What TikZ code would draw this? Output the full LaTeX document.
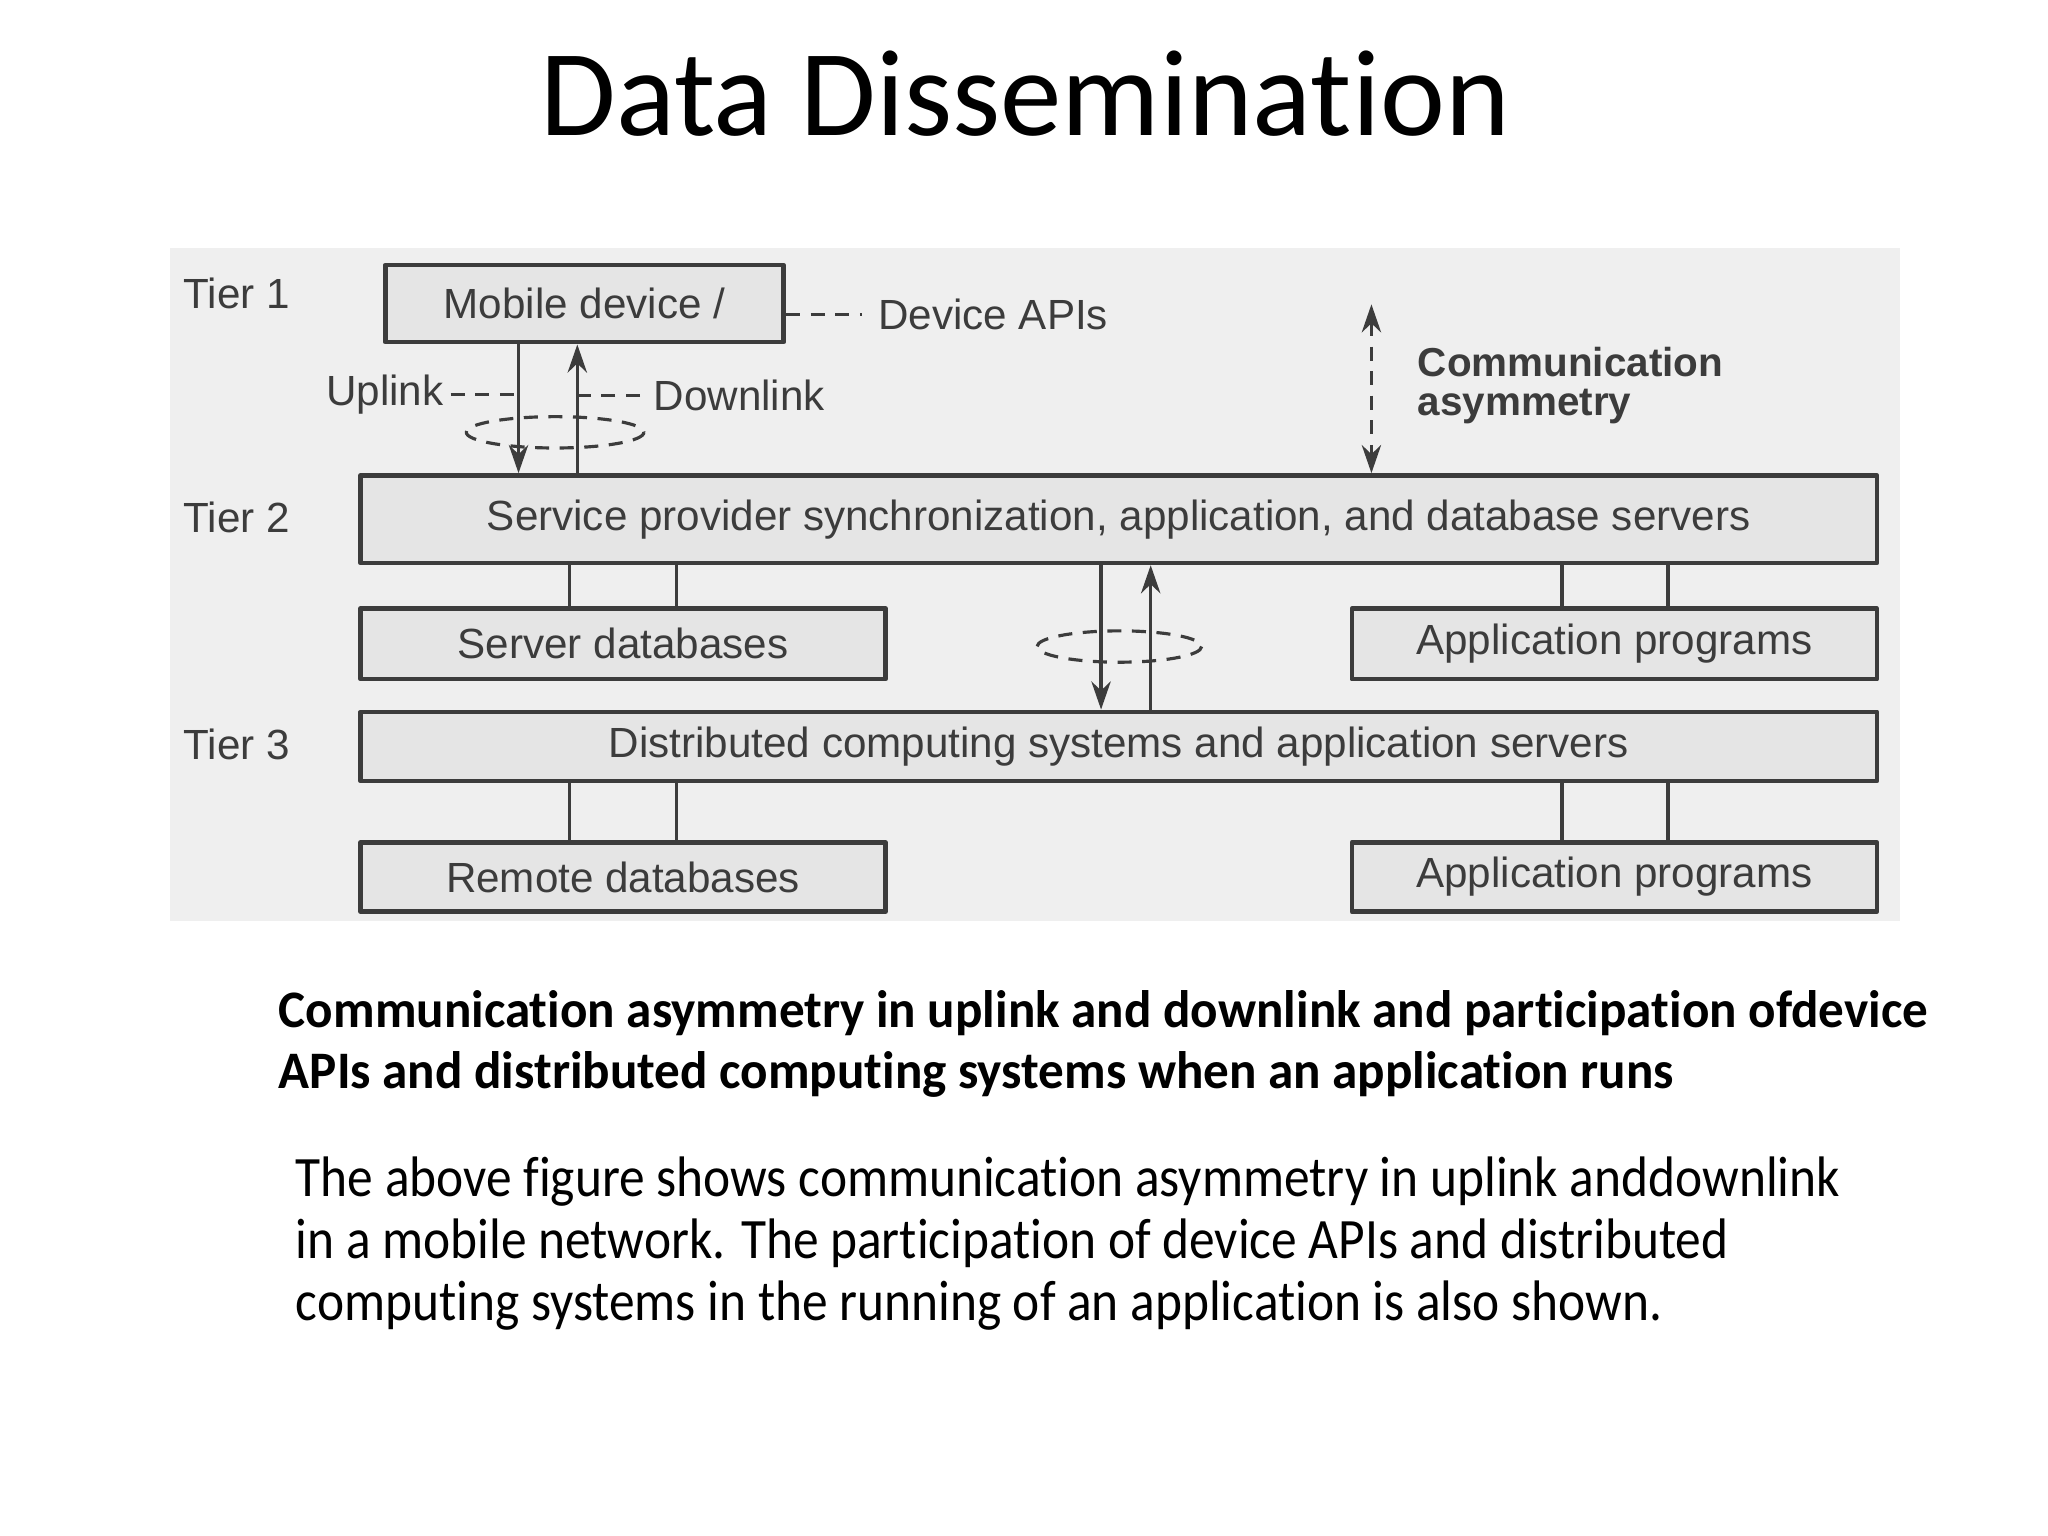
\documentclass[tikz,border=0pt]{standalone}
\usepackage{fontspec}
\setmainfont{Carlito}[Ligatures=NoCommon]
\newfontfamily\diagfont{Liberation Sans}
\newfontfamily\capfont[Ligatures=NoCommon, FakeStretch=0.97]{Carlito}
\newfontfamily\notefont[Ligatures=NoCommon, FakeStretch=0.9]{Carlito}
\usetikzlibrary{positioning,calc,arrows.meta}
\definecolor{ink}{HTML}{3C3C3C}
\definecolor{scan}{HTML}{EFEFEF}
\definecolor{boxfill}{HTML}{E5E5E5}
\tikzset{
  tierbox/.style={draw=ink, fill=boxfill, line width=1.3pt, inner sep=0pt, font=\diagfont\fontsize{12}{14}\selectfont, text=ink},
  tierlbl/.style={anchor=west, inner sep=0pt, font=\diagfont\fontsize{12}{14}\selectfont, text=ink},
  link/.style={draw=ink, line width=1pt},
  guide/.style={draw=ink, line width=0.9pt, dash pattern=on 4pt off 3pt}
}
\begin{document}
\begin{tikzpicture}[x=0.01306cm, y=-0.01306cm, >={Stealth[length=8pt,width=5.5pt]}, line join=round]
  \def\u{0.01306cm}
  \useasboundingbox[fill=white] (0,0) rectangle (1568,1176);
  \fill[scan] (130,190) rectangle (1455,705);
  \node (title) at (785,72) {\fontsize{35}{40}\selectfont Data Dissemination};
  % boxes
  \node[tierbox, minimum width=305*\u, minimum height=59*\u] (mobile) at (447.5,232.5) {Mobile device /};
  \node[tierbox, minimum width=1161*\u, minimum height=67*\u] (tiertwo) at (856.5,397.5) {Service provider synchronization, application, and database servers};
  \node[tierbox, minimum width=402*\u, minimum height=54*\u] (serverdb) at (477,493) {Server databases};
  \node[tierbox, minimum width=402*\u, minimum height=54*\u] (appone) at (1236,493) {Application programs};
  \node[tierbox, minimum width=1161*\u, minimum height=53*\u] (tierthree) at (856.5,571.5) {Distributed computing systems and application servers};
  \node[tierbox, minimum width=402*\u, minimum height=53*\u] (remotedb) at (477,671.5) {Remote databases};
  \node[tierbox, minimum width=402*\u, minimum height=53*\u] (apptwo) at (1236,671.5) {Application programs};
  \node[tierlbl] (tone) at (140,225) {Tier 1};
  \node[tierlbl] (ttwo) at (140,396) {Tier 2};
  \node[tierlbl] (tthree) at (140,570) {Tier 3};
  \node[tierlbl] (devapi) at (672,241) {Device APIs};
  \node[tierlbl, anchor=east] (uplink) at (340,302) {Uplink};
  \node[tierlbl] (downlink) at (500,303) {Downlink};
  \node[tierlbl, align=left, font=\diagfont\bfseries\fontsize{11.5}{11.2}\selectfont] (asym) at (1085,295) {Communication\\asymmetry};
  % uplink / downlink
  \coordinate (ulA) at ([xshift=-50.5*\u]mobile.south);
  \coordinate (dlA) at ([xshift=-5.5*\u]mobile.south);
  \draw[link,->] (ulA) -- (ulA |- tiertwo.north);
  \draw[link,<-] (dlA) -- (dlA |- tiertwo.north);
  \draw[guide] (uplink.east) ++(5,0) -- (uplink.east -| ulA);
  \draw[guide] (downlink.west) ++(-10,0) -- (downlink.west -| dlA);
  \draw[guide] (425,331) ellipse [x radius=68, y radius=12];
  \draw[guide] (mobile.east |- devapi) -- ([xshift=-12*\u]devapi.west);
  \coordinate (asymtop) at (1050,233);
  \draw[guide,<->] (asymtop) -- (asymtop |- tiertwo.north);
  % tier 2 to tier 3
  \coordinate (mdA) at ([xshift=-13.5*\u]tiertwo.south);
  \coordinate (muA) at ([xshift=24.5*\u]tiertwo.south);
  \draw[link,->] (mdA) -- (mdA |- tierthree.north);
  \draw[link,<-] (muA) -- (muA |- tierthree.north);
  \draw[guide] (857,495) ellipse [x radius=63, y radius=12];
  % stubs
  \foreach \a/\b/\d in {serverdb/tiertwo/-41, serverdb/tiertwo/41, appone/tiertwo/-40, appone/tiertwo/41,
                        remotedb/tierthree/-41, remotedb/tierthree/41, apptwo/tierthree/-40, apptwo/tierthree/41}
    \draw[link] ([xshift=\d*\u]\a.north) -- ([xshift=\d*\u]\a.north |- \b.south);
  % captions
  \node[anchor=west, inner sep=0pt, align=left, font=\capfont\bfseries\fontsize{15}{17.4}\selectfont] (caption) at (213,799.5)
    {Communication asymmetry in uplink and downlink and participation ofdevice\\APIs and distributed computing systems when an application runs};
  \node[anchor=west, inner sep=0pt, align=left, font=\notefont\fontsize{16.25}{17.6}\selectfont] (remark) at (226,952)
    {The above figure shows communication asymmetry in uplink anddownlink\\in a mobile network. The participation of device APIs and distributed\\computing systems in the running of an application is also shown.};
\end{tikzpicture}
\end{document}
